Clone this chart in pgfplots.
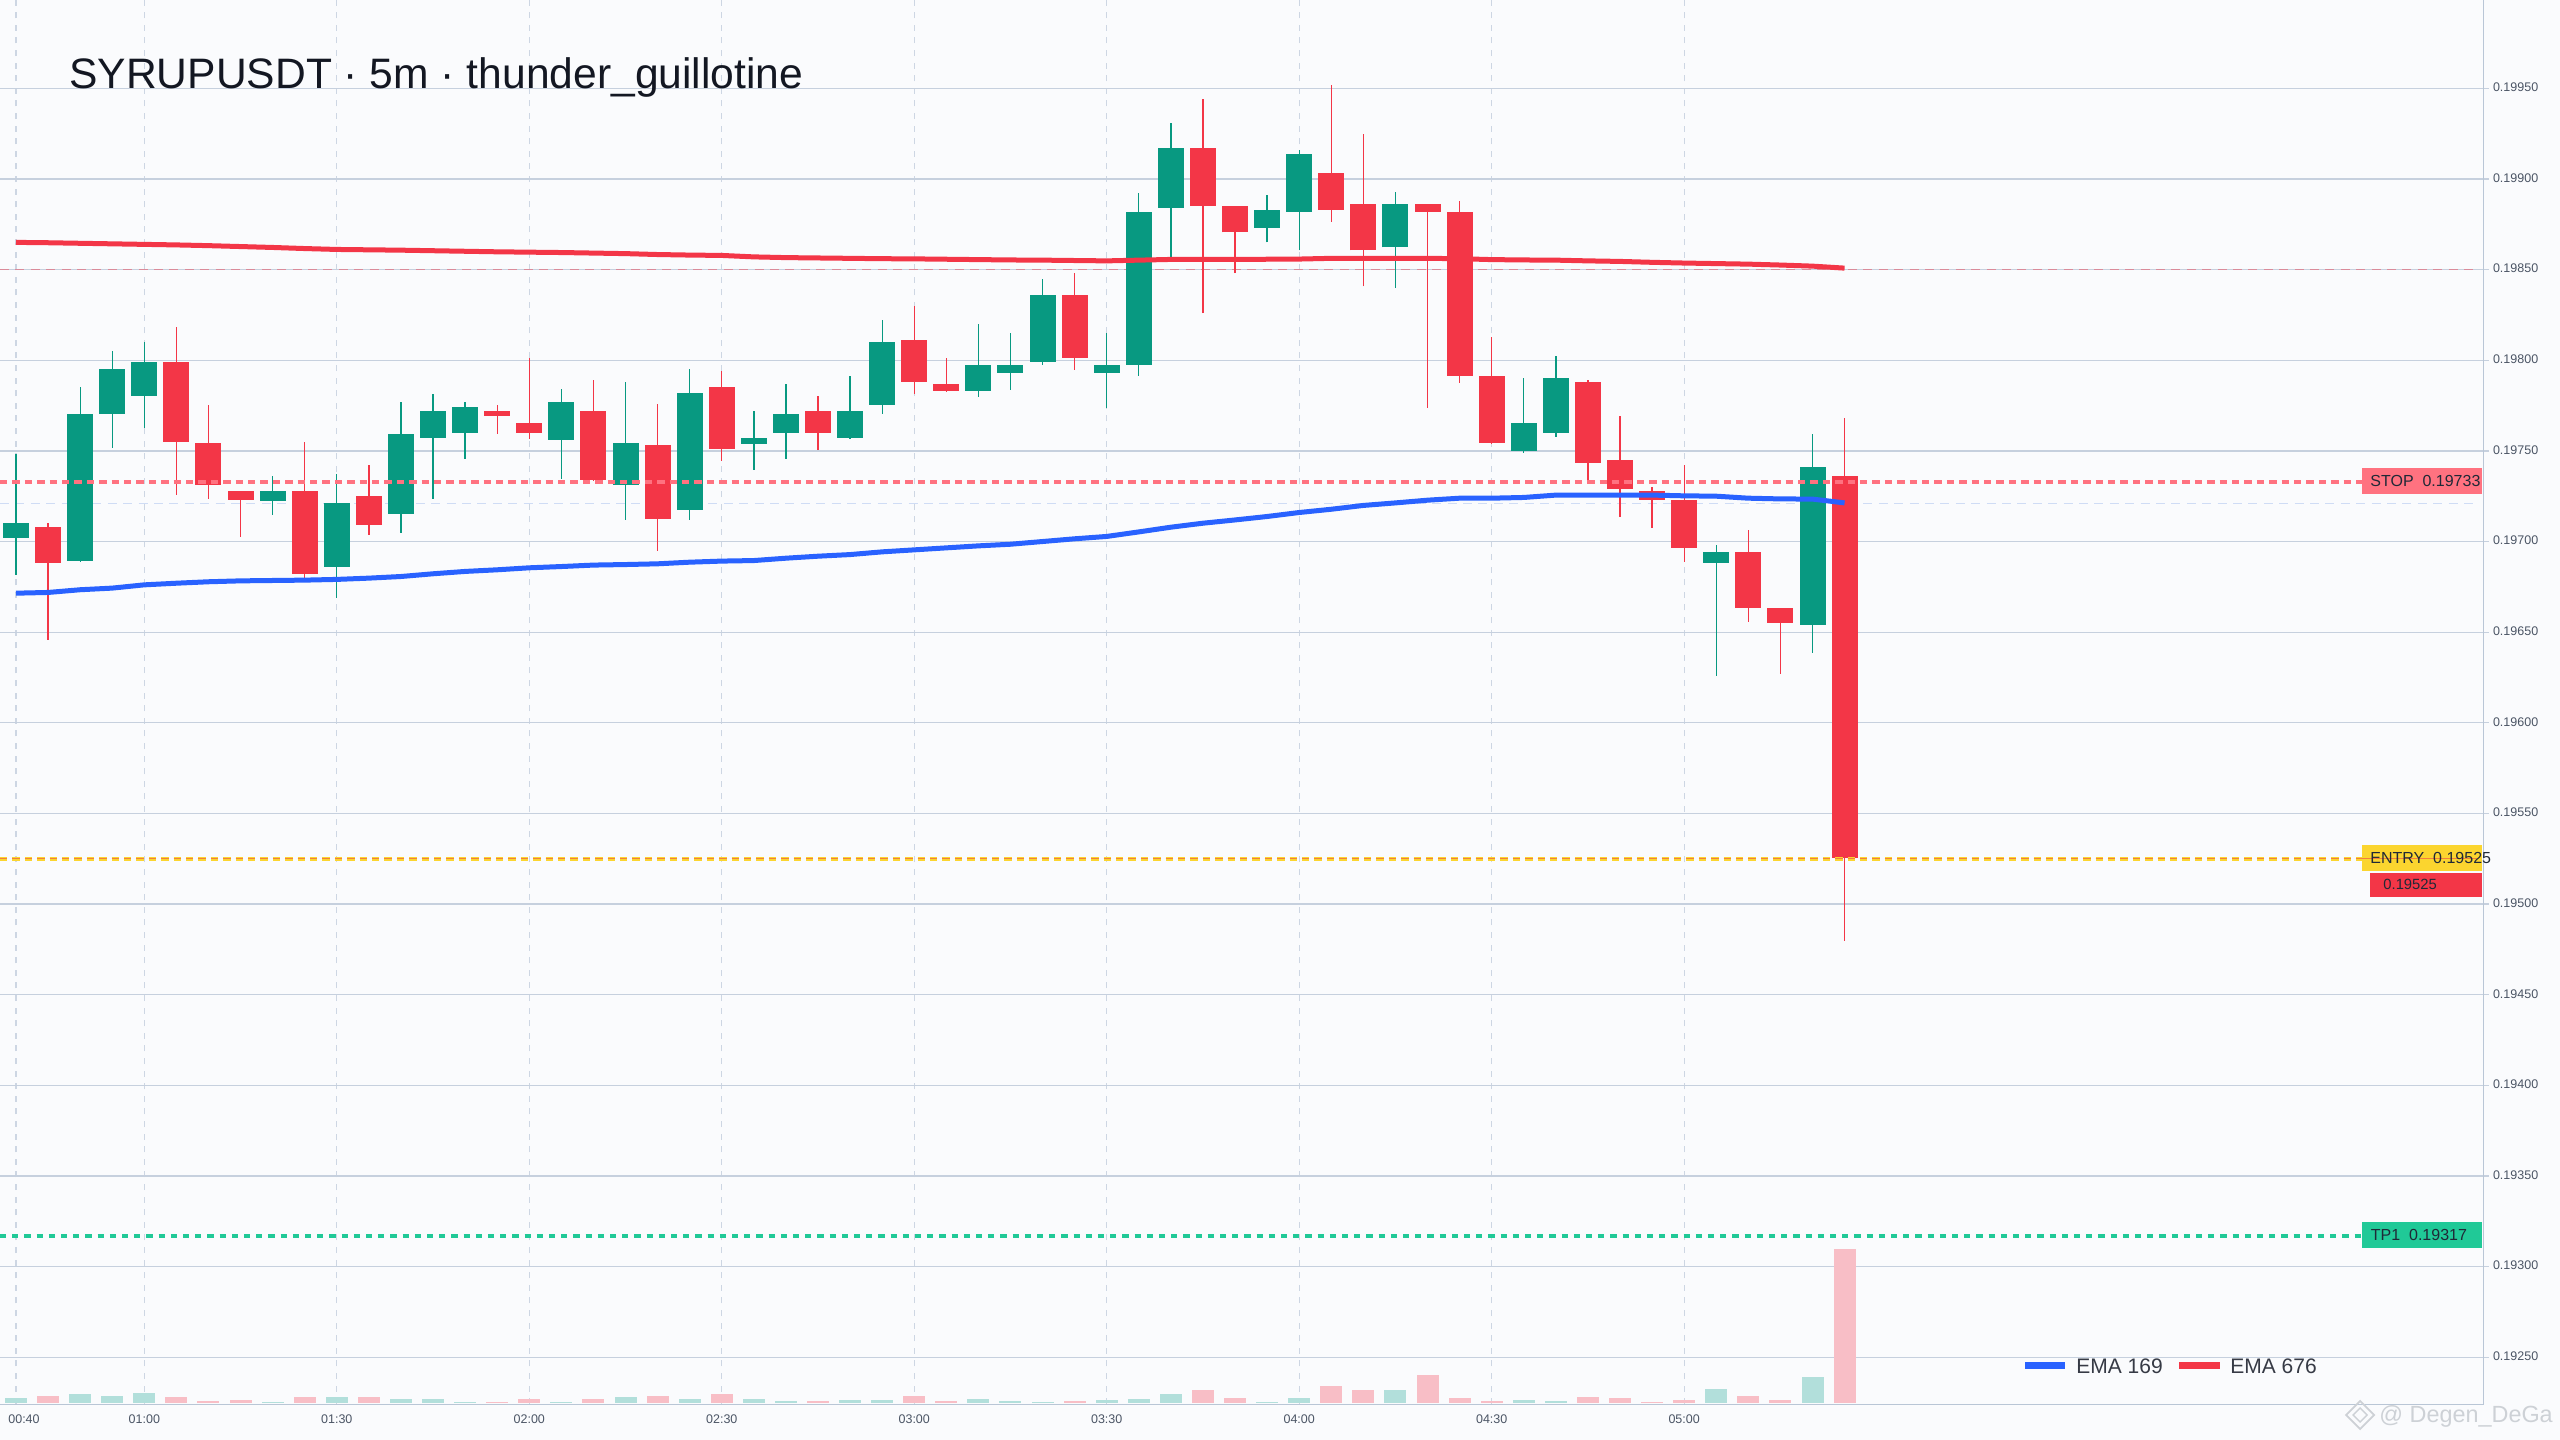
\documentclass[border=0pt]{standalone}
\usepackage{pgfplots}
\usepackage{pgfplotstable}
\usepackage{fontspec}
\setmainfont{Liberation Sans}
\pgfplotsset{compat=1.18}
\definecolor{bg}{HTML}{FAFBFD}
\definecolor{gridc}{HTML}{C6D0DE}
\definecolor{vgridc}{HTML}{CDD6E3}
\definecolor{axisc}{HTML}{B9C6D6}
\definecolor{ticktext}{HTML}{4B5565}
\definecolor{labeltext}{HTML}{1F2937}
\definecolor{titletext}{HTML}{131722}
\definecolor{legtext}{HTML}{363A45}
\definecolor{cgreen}{HTML}{089981}
\definecolor{cred}{HTML}{F33647}
\definecolor{vgreen}{HTML}{B2DFDB}
\definecolor{vred}{HTML}{F8BEC6}
\definecolor{emablue}{HTML}{2962FF}
\definecolor{stopc}{HTML}{FF7280}
\definecolor{entryc}{HTML}{FBD52F}
\definecolor{entryline}{HTML}{F2803C}
\definecolor{tpc}{HTML}{20C997}
\definecolor{lastblue}{HTML}{CFDCF5}
\definecolor{wm}{HTML}{CDD1D6}
% candle tables: index, body top, body bottom, high, low
\pgfplotstableread{
i top bot high low
0 0.197103 0.197020 0.197484 0.196816
2 0.197704 0.196894 0.197853 0.196888
3 0.197952 0.197704 0.198051 0.197517
4 0.197991 0.197803 0.198101 0.197627
8 0.197280 0.197224 0.197362 0.197147
10 0.197213 0.196860 0.197373 0.196690
12 0.197594 0.197153 0.197770 0.197048
13 0.197720 0.197572 0.197814 0.197235
14 0.197743 0.197600 0.197770 0.197456
17 0.197770 0.197561 0.197842 0.197346
19 0.197544 0.197313 0.197880 0.197120
21 0.197820 0.197175 0.197952 0.197120
23 0.197572 0.197539 0.197721 0.197395
24 0.197704 0.197600 0.197870 0.197456
26 0.197721 0.197572 0.197914 0.197566
27 0.198101 0.197754 0.198222 0.197704
30 0.197974 0.197831 0.198200 0.197798
31 0.197974 0.197930 0.198150 0.197836
32 0.198360 0.197991 0.198448 0.197974
34 0.197974 0.197930 0.198150 0.197737
35 0.198820 0.197974 0.198925 0.197914
36 0.199172 0.198842 0.199310 0.198568
39 0.198831 0.198732 0.198914 0.198650
40 0.199139 0.198820 0.199161 0.198606
43 0.198864 0.198623 0.198930 0.198397
47 0.197655 0.197500 0.197903 0.197489
48 0.197903 0.197600 0.198024 0.197577
53 0.196943 0.196882 0.196982 0.196260
56 0.197412 0.196540 0.197594 0.196386
}\upcandles
\pgfplotstableread{
i top bot high low
1 0.197081 0.196882 0.197103 0.196458
5 0.197991 0.197550 0.198184 0.197257
6 0.197544 0.197313 0.197754 0.197235
7 0.197280 0.197230 0.197280 0.197026
9 0.197280 0.196822 0.197550 0.196800
11 0.197252 0.197092 0.197423 0.197037
15 0.197720 0.197693 0.197754 0.197594
16 0.197655 0.197600 0.198013 0.197566
18 0.197720 0.197340 0.197892 0.197335
20 0.197533 0.197125 0.197760 0.196949
22 0.197853 0.197511 0.197941 0.197445
25 0.197721 0.197600 0.197803 0.197506
28 0.198112 0.197881 0.198300 0.197814
29 0.197870 0.197831 0.198013 0.197825
33 0.198360 0.198013 0.198481 0.197947
37 0.199172 0.198853 0.199441 0.198260
38 0.198853 0.198705 0.198853 0.198480
41 0.199035 0.198831 0.199518 0.198765
42 0.198864 0.198606 0.199249 0.198408
44 0.198864 0.198820 0.198864 0.197739
45 0.198820 0.197914 0.198881 0.197875
46 0.197914 0.197544 0.198129 0.197539
49 0.197880 0.197434 0.197892 0.197340
50 0.197450 0.197290 0.197693 0.197136
51 0.197280 0.197230 0.197302 0.197076
52 0.197230 0.196965 0.197423 0.196888
54 0.196943 0.196634 0.197064 0.196557
55 0.196634 0.196552 0.196634 0.196270
57 0.197362 0.195256 0.197682 0.194797
}\downcandles
\pgfplotstableread{
i v
0 5
2 9
3 7
4 10
8 1
10 6
12 4
13 4
14 1
17 1
19 6
21 4
23 4
24 2
26 3
27 3
30 4
31 2
32 1
34 3
35 4
36 9
39 1
40 5
43 13
47 3
48 2
53 14
56 26
}\upvol
\pgfplotstableread{
i v
1 7
5 6
6 2
7 3
9 6
11 6
15 1
16 4
18 4
20 7
22 9
25 2
28 7
29 2
33 2
37 13
38 5
41 17
42 13
44 28
45 5
46 2
49 6
50 5
51 1
52 3
54 7
55 3
57 154
}\downvol
\pgfplotstableread{
i v
0 0.196715
1 0.196719
2 0.196734
3 0.196743
4 0.196761
5 0.196770
6 0.196778
7 0.196783
8 0.196785
9 0.196787
10 0.196791
11 0.196798
12 0.196807
13 0.196822
14 0.196835
15 0.196844
16 0.196855
17 0.196862
18 0.196870
19 0.196873
20 0.196877
21 0.196886
22 0.196892
23 0.196895
24 0.196908
25 0.196919
26 0.196928
27 0.196943
28 0.196954
29 0.196965
30 0.196976
31 0.196985
32 0.197000
33 0.197015
34 0.197028
35 0.197053
36 0.197079
37 0.197101
38 0.197119
39 0.197138
40 0.197160
41 0.197178
42 0.197199
43 0.197213
44 0.197228
45 0.197239
46 0.197239
47 0.197243
48 0.197256
49 0.197256
50 0.197256
51 0.197256
52 0.197252
53 0.197250
54 0.197239
55 0.197235
56 0.197234
57 0.197213
}\emafast
\pgfplotstableread{
i v
0 0.198650
1 0.198648
2 0.198645
3 0.198642
4 0.198639
5 0.198636
6 0.198632
7 0.198627
8 0.198622
9 0.198616
10 0.198611
11 0.198609
12 0.198607
13 0.198604
14 0.198601
15 0.198598
16 0.198596
17 0.198594
18 0.198591
19 0.198588
20 0.198583
21 0.198580
22 0.198578
23 0.198570
24 0.198566
25 0.198564
26 0.198562
27 0.198560
28 0.198559
29 0.198557
30 0.198555
31 0.198553
32 0.198552
33 0.198550
34 0.198548
35 0.198552
36 0.198556
37 0.198556
38 0.198556
39 0.198557
40 0.198558
41 0.198562
42 0.198562
43 0.198562
44 0.198562
45 0.198560
46 0.198555
47 0.198553
48 0.198552
49 0.198548
50 0.198545
51 0.198540
52 0.198536
53 0.198533
54 0.198530
55 0.198525
56 0.198519
57 0.198508
}\emaslow
\pgfplotsset{
  base/.style={
    scale only axis, width=1241.85pt, height=702.15pt,
    at={(0pt,17.85pt)}, anchor=south west,
    xmin=-0.4988, xmax=76.92,
  },
  wickbars/.style={draw=none, mark=none, forget plot,
    error bars/.cd, y dir=plus, y explicit, error mark=none,
    error bar style={draw=#1, line width=0.65pt, line cap=butt}},
  bodybars/.style={draw=none, mark=none, forget plot,
    error bars/.cd, y dir=plus, y explicit, error mark=none,
    error bar style={draw=#1, line width=13pt, line cap=butt}},
}
\begin{document}
\begin{tikzpicture}[x=1pt,y=1pt]
\useasboundingbox (0,0) rectangle (1280pt,720pt);
\fill[bg] (0,0) rectangle (1280pt,720pt);
% grid and price axis
\begin{axis}[base,
  ymin=0.192241, ymax=0.199987,
  axis x line=bottom, axis y line=right,
  axis line style={-, draw=axisc, line width=0.75pt},
  xtick={0,4,10,16,22,28,34,40,46,52},
  xticklabels={\hspace*{8pt}00:40,01:00,01:30,02:00,02:30,03:00,03:30,04:00,04:30,05:00},
  ytick={0.1925,0.193,0.1935,0.194,0.1945,0.195,0.1955,0.196,0.1965,0.197,0.1975,0.198,0.1985,0.199,0.1995},
  yticklabels={0.19250,0.19300,0.19350,0.19400,0.19450,0.19500,0.19550,0.19600,0.19650,0.19700,0.19750,0.19800,0.19850,0.19900,0.19950},
  scaled y ticks=false,
  xmajorgrids, ymajorgrids,
  x grid style={draw=vgridc, line width=0.55pt, dash pattern=on 3pt off 3.3pt},
  y grid style={draw=gridc, line width=0.65pt},
  tick align=outside, major tick length=2.5pt,
  xtick style={draw=none}, ytick style={draw=gridc, line width=0.65pt},
  xticklabel style={font=\fontsize{6.25}{7}\selectfont, text=ticktext, inner sep=0pt, yshift=-2.5pt},
  yticklabel style={font=\fontsize{6.25}{7}\selectfont, text=ticktext, inner sep=0pt, xshift=2pt, yshift=0.5pt},
]
\addplot[draw=none, forget plot] coordinates {(0,0.197)(1,0.197)};
\end{axis}
% volume
\begin{axis}[base, hide axis, ymin=-1.3, ymax=1403]
\addplot[ycomb, draw=vgreen, line width=11pt, mark=none] table[x=i,y=v] {\upvol};
\addplot[ycomb, draw=vred, line width=11pt, mark=none] table[x=i,y=v] {\downvol};
\end{axis}
% candles, averages and price lines
\begin{axis}[base, hide axis, ymin=0.192241, ymax=0.199987, scaled y ticks=false]
\addplot[draw=lastblue, line width=0.6pt, dash pattern=on 4.5pt off 3.2pt, forget plot] coordinates {(-0.4988,0.19721)(76.65,0.19721)};
\addplot[draw=cred!45!gridc, line width=0.6pt, dash pattern=on 4.5pt off 3.2pt, forget plot] coordinates {(-0.4988,0.19850)(76.65,0.19850)};
\addplot[wickbars=cgreen] table[x=i,y=low,y error expr=\thisrow{high}-\thisrow{low}] {\upcandles};
\addplot[wickbars=cred] table[x=i,y=low,y error expr=\thisrow{high}-\thisrow{low}] {\downcandles};
\addplot[bodybars=cgreen] table[x=i,y=bot,y error expr=\thisrow{top}-\thisrow{bot}] {\upcandles};
\addplot[bodybars=cred] table[x=i,y=bot,y error expr=\thisrow{top}-\thisrow{bot}] {\downcandles};
\addplot[draw=cred, line width=2.5pt, line join=round, forget plot] table[x=i,y=v] {\emaslow};
\addplot[draw=emablue, line width=2.5pt, line join=round, forget plot] table[x=i,y=v] {\emafast};
\addplot[draw=stopc, line width=2pt, dash pattern=on 3.7pt off 2.5pt, forget plot] coordinates {(-0.4988,0.19733)(73.13,0.19733)};
\addplot[draw=entryc, line width=2pt, dash pattern=on 3.7pt off 2.5pt, forget plot] coordinates {(-0.4988,0.19525)(73.13,0.19525)};
\addplot[draw=entryline, line width=0.45pt, dash pattern=on 3.7pt off 2.5pt, forget plot] coordinates {(-0.4988,0.19525)(76.65,0.19525)};
\addplot[draw=tpc, line width=1.8pt, dash pattern=on 3.1pt off 3pt, forget plot] coordinates {(-0.4988,0.19317)(73.13,0.19317)};
\end{axis}
% overlay in page pixels
\begin{scope}[shift={(0,720pt)}, x=0.5pt, y=-0.5pt]
\node[anchor=base west, inner sep=0pt, text=titletext, font=\fontsize{21.3}{24}\selectfont] at (69,89) {SYRUPUSDT · 5m · thunder\_guillotine};
\fill[stopc] (2362,468) rectangle (2482,493.7);
\fill[entryc] (2362,845) rectangle (2482,871);
\fill[cred] (2370,873) rectangle (2482,896.7);
\fill[tpc] (2362,1222) rectangle (2482,1247.7);
\draw[entryline, line width=0.4pt] (2362,858.3) -- (2477,858.3);
\begin{scope}[every node/.style={anchor=base west, inner sep=0pt, text=labeltext, font=\fontsize{8}{9}\selectfont}]
\node at (2370,486.7) {STOP\ \ 0.19733};
\node at (2370,863.7) {ENTRY\ \ 0.19525};
\node at (2370.5,1240.7) {TP1\ \ 0.19317};
\node[font=\fontsize{7.4}{8}\selectfont] at (2383,890) {0.19525};
\end{scope}
\fill[emablue] (2025,1362.5) rectangle (2065,1369.5);
\fill[cred] (2179,1362.5) rectangle (2220,1369.5);
\begin{scope}[every node/.style={anchor=base west, inner sep=0pt, text=legtext, font=\fontsize{10.5}{12}\selectfont}]
\node at (2076,1373.5) {EMA 169};
\node at (2230,1373.5) {EMA 676};
\end{scope}
\draw[wm, line width=0.9pt] (2360,1401) -- (2374,1415) -- (2360,1429) -- (2346,1415) -- cycle;
\draw[wm, line width=0.7pt] (2360,1408) -- (2367,1415) -- (2360,1422) -- (2353,1415) -- cycle;
\node[anchor=base west, inner sep=0pt, text=wm, font=\fontsize{11.7}{13}\selectfont] at (2379,1423) {@ Degen\_DeGa};
\end{scope}
\end{tikzpicture}
\end{document}
